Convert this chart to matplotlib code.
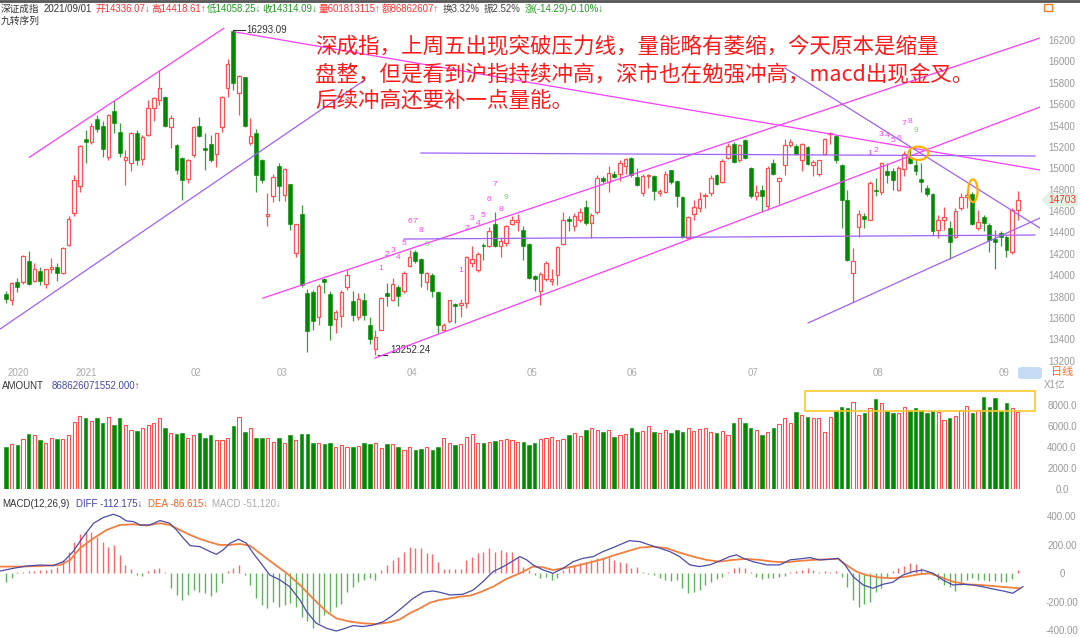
import numpy as np
import matplotlib
matplotlib.use("Agg")
import matplotlib.pyplot as plt
from matplotlib.patches import Ellipse, Rectangle, FancyBboxPatch

plt.rcParams['font.family'] = ['Liberation Sans', 'Noto Sans CJK SC', 'DejaVu Sans']

# ---- daily candles (深证成指), index 0 = mid Dec 2020 ----
opens = [13820, 13770, 13940, 13940, 14130, 13950, 14040, 13920, 14060, 14080,
         14020, 14280, 14580, 14830, 15270, 15250, 15460, 15400, 15110, 15540,
         15340, 15080, 15050, 15330, 15090, 15310, 15560, 15640, 15670, 15390,
         15220, 15100, 14900, 15120, 15400, 15190, 15230, 15130, 15390, 15750,
         16280, 15700, 15850, 15240, 15330, 15080, 14550, 14740, 15020, 14750,
         14850, 14210, 14570, 13830, 13840, 13610, 13960, 13820, 13590, 13620,
         13890, 13760, 13610, 13770, 13530, 13310, 13490, 13830, 13770, 13890,
         13850, 14090, 14220, 14150, 13940, 14000, 13840, 13490, 13570, 13730,
         13720, 13740, 14110, 14050, 14280, 14270, 14480, 14270, 14300, 14480,
         14500, 14420, 14290, 13990, 13850, 13960, 13950, 14000, 14290, 14530,
         14460, 14520, 14640, 14490, 14590, 14910, 14870, 14950, 14950, 15020,
         15100, 14920, 14770, 14930, 14930, 14770, 14780, 14980, 14880, 14730,
         14350, 14570, 14630, 14740, 14770, 14940, 14870, 15100, 15230, 15080,
         15260, 15000, 14740, 14800, 14650, 15050, 14880, 15030, 15220, 15210,
         15080, 15200, 15030, 14950, 15130, 15320, 15300, 15030, 14700, 14020,
         14450, 14550, 14520, 14800, 14780, 14970, 14970, 14800, 14990, 15110,
         15030, 14900, 14820, 14760, 14420, 14520, 14440, 14360, 14630, 14730,
         14760, 14440, 14540, 14470, 14336.07, 14390, 14360, 14220, 14610]
highs = [13850, 13940, 13970, 14190, 14230, 14110, 14080, 14060, 14160, 14110,
         14260, 14550, 14940, 15220, 15360, 15420, 15500, 15440, 15510, 15640,
         15420, 15170, 15340, 15360, 15310, 15640, 15670, 15920, 15680, 15500,
         15230, 15110, 15090, 15400, 15480, 15330, 15310, 15330, 15680, 16020,
         16293.09, 15870, 15850, 15470, 15370, 15090, 14770, 14950, 15050, 15000,
         14850, 14480, 14660, 13870, 13860, 13920, 13970, 13850, 13670, 13860,
         14050, 13850, 13830, 13830, 13610, 13490, 13800, 13930, 13970, 13910,
         14040, 14240, 14240, 14160, 14030, 14020, 13850, 13550, 13770, 13740,
         13780, 14180, 14270, 14220, 14300, 14450, 14590, 14350, 14470, 14550,
         14570, 14460, 14300, 14000, 14030, 14130, 14060, 14270, 14590, 14550,
         14580, 14630, 14700, 14580, 14940, 14930, 15020, 14970, 15080, 15100,
         15110, 15000, 14950, 14950, 14940, 14810, 14970, 14980, 14890, 14740,
         14550, 14700, 14780, 14770, 14940, 14950, 15090, 15240, 15250, 15230,
         15270, 15010, 14840, 14840, 15020, 15090, 14920, 15270, 15270, 15230,
         15240, 15210, 15080, 15080, 15280, 15340, 15310, 15040, 14800, 14250,
         14610, 14580, 14880, 14910, 15060, 15050, 15000, 15020, 15160, 15180,
         15090, 15050, 14840, 14770, 14560, 14640, 14510, 14630, 14770, 14800,
         14780, 14610, 14560, 14490, 14418.61, 14410, 14380, 14630, 14790]
lows = [13740, 13720, 13840, 13920, 13910, 13940, 13910, 13880, 14020, 13950,
        14010, 14270, 14550, 14780, 15050, 15230, 15340, 15110, 15080, 15330,
        15110, 14840, 14970, 15030, 15030, 15300, 15440, 15590, 15390, 15190,
        14950, 14700, 14860, 15110, 15290, 14980, 15060, 15010, 15340, 15670,
        15730, 15500, 15390, 15220, 14780, 14860, 14460, 14680, 14690, 14690,
        14420, 14170, 13890, 13280, 13490, 13530, 13830, 13390, 13460, 13520,
        13860, 13570, 13580, 13580, 13360, 13252.24, 13490, 13710, 13760, 13710,
        13830, 14080, 14110, 13890, 13860, 13800, 13460, 13490, 13550, 13550,
        13610, 13690, 14080, 14030, 14140, 14260, 14260, 14170, 14270, 14470,
        14410, 14140, 13960, 13850, 13720, 13950, 13910, 13910, 14280, 14410,
        14410, 14500, 14470, 14350, 14570, 14860, 14780, 14910, 14880, 14950,
        14920, 14830, 14740, 14820, 14700, 14740, 14770, 14850, 14640, 14350,
        14350, 14520, 14590, 14630, 14740, 14840, 14860, 15090, 15050, 15060,
        15090, 14720, 14700, 14590, 14610, 14940, 14670, 14940, 15200, 15120,
        14970, 15030, 14930, 14930, 15130, 15230, 15050, 14440, 14130, 13750,
        14360, 14440, 14520, 14740, 14750, 14860, 14800, 14790, 14930, 15040,
        14940, 14780, 14740, 14380, 14350, 14420, 14150, 14350, 14610, 14630,
        14470, 14420, 14410, 14220, 14058.25, 14270, 14170, 14200, 14520]
closes = [13780, 13930, 13890, 14180, 13920, 14060, 13950, 14060, 14080, 14020,
          14250, 14530, 14890, 15210, 15250, 15400, 15370, 15180, 15500, 15420,
          15140, 15110, 15330, 15080, 15290, 15560, 15660, 15750, 15400, 15470,
          14980, 14890, 15080, 15390, 15300, 15170, 15080, 15330, 15670, 15980,
          15800, 15860, 15400, 15300, 14940, 14890, 14570, 14920, 14830, 14990,
          14480, 14480, 13910, 13480, 13570, 13900, 13940, 13530, 13660, 13840,
          14000, 13630, 13780, 13630, 13400, 13420, 13790, 13810, 13920, 13810,
          14020, 14170, 14130, 14020, 14020, 13850, 13530, 13530, 13770, 13710,
          13740, 14170, 14150, 14200, 14270, 14410, 14270, 14320, 14460, 14520,
          14520, 14270, 13970, 13960, 14010, 14110, 13960, 14260, 14520, 14510,
          14550, 14590, 14490, 14560, 14910, 14880, 14960, 14920, 15050, 15090,
          14940, 14840, 14930, 14940, 14790, 14790, 14950, 14870, 14740, 14360,
          14540, 14640, 14710, 14750, 14910, 14850, 15070, 15210, 15060, 15220,
          15100, 14740, 14780, 14740, 15000, 14950, 14910, 15220, 15250, 15130,
          15230, 15040, 15060, 15080, 15270, 15330, 15080, 14700, 14140, 14130,
          14570, 14530, 14860, 14790, 15050, 14940, 14890, 15000, 15130, 15050,
          14970, 14870, 14760, 14410, 14520, 14540, 14310, 14600, 14730, 14750,
          14480, 14500, 14490, 14328, 14314.09, 14360, 14240, 14610, 14703]

# 成交额, 亿元
amount = [3986, 4271, 4207, 4777, 5251, 5156, 4681, 4365, 4840, 4777,
          4777, 5156, 6358, 6959, 6738, 6485, 6738, 6263, 6833, 6105,
          6801, 6105, 5630, 5535, 5789, 6105, 6263, 6801, 5789, 5314,
          5219, 5314, 4840, 5156, 5314, 4840, 5156, 4681, 4681, 4840,
          6042, 6896, 5472, 5789, 4903, 4903, 4840, 4523, 4903, 4365,
          5156, 4681, 5251, 5219, 4365, 4365, 4271, 4365, 4049, 4207,
          4049, 4049, 4144, 4365, 4271, 4365, 3891, 4271, 4271, 4049,
          3732, 4049, 3732, 3796, 4049, 3732, 4049, 4840, 4365, 4207,
          4271, 4998, 5219, 4365, 4365, 4523, 4587, 4681, 4745, 4681,
          4523, 4460, 4207, 4365, 4745, 4840, 4998, 4681, 4777, 5156,
          5314, 5093, 5630, 5789, 5630, 5472, 5630, 4998, 5156, 5219,
          5789, 5472, 5535, 6042, 5472, 5314, 5630, 5314, 5630, 5472,
          5789, 5535, 5725, 5852, 5472, 5314, 5535, 5156, 6263, 6738,
          6263, 5852, 5630, 5156, 5472, 5852, 6169, 6738, 6263, 7371,
          7054, 6896, 6738, 6738, 5409, 6896, 7434, 7846, 7751, 8320,
          7054, 7212, 7687, 8573, 8161, 7434, 7212, 7212, 7846, 7529,
          7687, 7529, 7212, 7434, 7371, 6579, 6738, 6991, 7529, 7941,
          7212, 7529, 8787, 7838, 8686, 7459, 8218, 7716, 7364]

macd_hist = [-58, -30, 12, 12, 16, 16, 23, 23, 30, 47,
             94, 152, 222, 274, 292, 288, 257, 222, 187, 199,
             129, 58, 30, -12, -16, 16, 30, 40, 12, -105,
             -152, -187, -152, -117, -129, -140, -157, -133, -70, 19,
             35, 58, -12, -82, -175, -222, -246, -199, -234, -222,
             -211, -234, -304, -335, -386, -351, -292, -274, -234, -218,
             -129, -94, -58, -47, -35, -47, 23, 58, 94, 117,
             152, 187, 180, 175, 140, 133, 82, 30, 30, 30,
             30, 94, 117, 140, 152, 175, 152, 164, 152, 152,
             117, 47, 23, -12, -30, -23, -47, -30, 23, 35,
             58, 70, 77, 94, 105, 105, 117, 94, 82, 70,
             35, 47, 12, -2, -12, -30, -47, -54, -47, -105,
             -140, -133, -117, -82, -63, -40, -23, 12, 35, 47,
             40, 12, -23, -40, -35, -30, -23, -16, 12, 16,
             23, 35, 23, 12, 16, 12, 16, -23, -94, -187,
             -234, -218, -199, -129, -101, -35, 16, 35, 54, 70,
             63, 35, 16, -12, -47, -82, -94, -124, -82, -47,
             -30, -47, -47, -54, -51, -63, -58, -40, 23]

diff_idx = [-1.0, 1.3, 3.6, 6.0, 8.3, 10.1, 11.8, 13.6, 15.4, 17.1,
            18.9, 20.0, 21.2, 22.4, 23.6, 25.3, 27.1, 28.8, 30.0, 31.2,
            32.4, 34.1, 35.9, 37.0, 38.2, 39.4, 40.9, 42.3, 43.5, 45.3,
            46.4, 48.2, 49.9, 51.7, 52.9, 54.6, 56.4, 58.1, 59.3, 61.1,
            62.8, 64.6, 66.4, 68.1, 69.9, 71.6, 73.4, 75.1, 76.3, 78.1,
            80.4, 82.2, 83.9, 85.7, 87.5, 89.2, 90.4, 91.6, 92.7, 94.5,
            96.2, 98.0, 99.8, 101.5, 103.3, 105.0, 106.8, 108.6, 109.7, 111.5,
            113.2, 115.0, 116.8, 118.5, 120.3, 122.0, 123.8, 125.6, 127.3, 128.5,
            129.7, 131.4, 133.8, 136.1, 137.9, 139.6, 141.4, 143.1, 144.9, 146.4,
            147.6, 149.0, 150.8, 152.5, 154.3, 156.0, 157.8, 159.6, 161.3, 163.1,
            164.8, 166.6, 168.3, 170.1, 171.8, 173.6, 175.4, 177.1, 178.9]
diff_val = [16, 35, 51, 58, 54, 82, 152, 257, 351, 391,
            414, 398, 367, 363, 339, 339, 370, 351, 304, 246,
            194, 187, 152, 133, 164, 211, 239, 211, 140, 47,
            -12, -47, -94, -187, -269, -351, -386, -405, -391, -367,
            -374, -363, -339, -293, -234, -176, -133, -124, -133, -152,
            -147, -117, -59, 12, 47, 87, 117, 94, 59, 23,
            0, 35, 82, 105, 117, 152, 180, 211, 229, 222,
            199, 176, 152, 117, 59, 47, 59, 87, 117, 129,
            105, 82, 59, 59, 94, 101, 110, 94, 98, 105,
            59, -23, -82, -105, -77, -63, -12, 12, 23, 0,
            -47, -82, -77, -82, -94, -110, -124, -140, -94]
dea_idx = [-1.0, 2.5, 6.0, 9.5, 11.3, 13.0, 15.4, 17.7, 20.0, 22.4,
           24.7, 27.1, 28.8, 30.6, 32.4, 34.1, 35.9, 37.6, 39.4, 41.1,
           42.9, 44.7, 47.0, 49.4, 51.7, 54.0, 56.4, 58.1, 60.5, 62.8,
           65.2, 67.5, 69.3, 71.0, 72.8, 74.6, 76.3, 78.1, 79.8, 81.6,
           83.4, 85.7, 88.0, 90.4, 92.7, 94.5, 96.2, 98.0, 99.8, 102.1,
           104.5, 106.8, 109.1, 111.5, 113.8, 116.2, 118.5, 120.9, 123.2, 125.6,
           127.9, 130.2, 132.6, 134.9, 137.3, 139.6, 142.0, 144.3, 146.4, 147.8,
           149.6, 151.3, 153.7, 156.0, 158.4, 160.7, 162.5, 164.2, 166.6, 168.9,
           171.3, 173.6, 175.9, 178.3]
dea_val = [47, 47, 51, 58, 94, 176, 246, 304, 339, 344,
           335, 351, 339, 304, 269, 241, 218, 199, 199, 206,
           194, 140, 70, 0, -82, -176, -269, -316, -339, -351,
           -356, -344, -323, -281, -246, -206, -187, -176, -164, -157,
           -133, -94, -40, 0, 47, 42, 23, 35, 47, 70,
           94, 124, 152, 180, 187, 176, 145, 117, 94, 82,
           94, 101, 94, 82, 77, 87, 94, 98, 101, 59,
           12, -12, -30, -35, -23, -7, 0, -23, -59, -77,
           -82, -89, -98, -105]

month_pos = [2.1, 14.2, 33.4, 48.5, 71.5, 92.5, 110.2, 131.4, 153.4, 175.5]
month_lab = ['2020', '2021', '02', '03', '04', '05', '06', '07', '08', '09']

price_ticks = list(range(13200, 16201, 200))
amount_ticks = [0, 2000, 4000, 6000, 8000]
macd_ticks = [-400, -200, 0, 200, 400]

# 九转序列 start bars
td_start = [66, 80, 152]

# hand drawn trend lines (bar index, price)
pink_lines = [(4.1, 15103, 38.3, 16309),
              (45.2, 13786, 181.9, 16219),
              (64.9, 13225, 181.9, 15573),
              (40.3, 16275, 181.9, 14984)]
purple_lines = [(-1.05, 13496, 63.1, 15826),
                (73.0, 15143, 181.0, 15115),
                (70.0, 14338, 181.0, 14376),
                (137.0, 15938, 181.9, 14441),
                (141.1, 13553, 181.9, 14535)]
circles = [(160.5, 15140, 3.5, 125), (170.1, 14790, 1.64, 212)]
amount_box = (140.5, 7431, 181.1, 9357)

header = [('深证成指', '#333333', 4), ('2021/09/01', '#333333', 4),
          ('开14336.07↓', '#ff3030', 1), ('高14418.61↑', '#ff3030', 1),
          ('低14058.25↓', '#1f9a1f', 1), ('收14314.09↓', '#1f9a1f', 1),
          ('量601813115↑', '#ff3030', 1), ('额86862607↑', '#ff3030', 4),
          ('换3.32%', '#444444', 4), ('振2.52%', '#444444', 4),
          ('涨(-14.29)-0.10%↓', '#1f9a1f', 0)]

note = ["深成指，上周五出现突破压力线，量能略有萎缩，今天原本是缩量",
        "盘整，但是看到沪指持续冲高，深市也在勉强冲高，macd出现金叉。",
        "后续冲高还要补一点量能。"]

W, H = 1080, 638
RED = '#ff5050'
GREEN = '#008a00'
WICK_G = '#3c9c3c'
PINK = '#ff3cff'
PURPLE = '#a060f8'
GRAY = '#999999'

fig = plt.figure(figsize=(W / 100, H / 100), dpi=100)
fig.patch.set_facecolor('white')


def panel(top, bottom):
    return fig.add_axes([0, 1 - bottom / H, 1040 / W, (bottom - top) / H])


def ftext(x, y, s, **kw):
    kw.setdefault('va', 'center')
    kw.setdefault('fontsize', 7)
    return fig.text(x / W, 1 - y / H, s, **kw)


ax = panel(20, 362)
axv = panel(385, 489.3)
axm = panel(512, 636)

o = np.array(opens, dtype=float)
h = np.array(highs, dtype=float)
l = np.array(lows, dtype=float)
c = np.array(closes, dtype=float)
x = np.arange(len(c))
up = c >= o
lo = np.minimum(o, c)
hi = np.maximum(o, c)
bh = np.maximum(hi - lo, 8)

# candles
ax.vlines(x[~up], l[~up], h[~up], color=WICK_G, lw=0.9, zorder=2)
ax.bar(x[~up], bh[~up], bottom=lo[~up], width=0.68, color=GREEN,
       edgecolor=GREEN, lw=0.4, zorder=3)
ax.vlines(x[up], hi[up], h[up], color=RED, lw=0.9, zorder=2)
ax.vlines(x[up], l[up], lo[up], color=RED, lw=0.9, zorder=2)
ax.bar(x[up], bh[up], bottom=lo[up], width=0.62, facecolor='white',
       edgecolor=RED, lw=0.9, zorder=3)

for x0, y0, x1, y1 in pink_lines:
    ax.plot([x0, x1], [y0, y1], color=PINK, lw=0.9, zorder=4)
for x0, y0, x1, y1 in purple_lines:
    ax.plot([x0, x1], [y0, y1], color=PURPLE, lw=0.9, zorder=4)
for cx, cy, ew, eh in circles:
    ax.add_patch(Ellipse((cx, cy), ew, eh, fill=False, ec='#ffb000', lw=1.6, zorder=5))

# 九转 numbers
for s in td_start:
    for k in range(9):
        i = s + k
        ax.annotate(str(k + 1), (i, h[i]), xytext=(0, 20), textcoords='offset points',
                    ha='center', va='center', fontsize=6,
                    color='#66dd66' if k == 8 else PINK)

# max / min labels
imax = int(np.argmax(h))
imin = int(np.argmin(l))
ax.plot([imax, imax + 2.1], [h[imax], h[imax]], color='#333333', lw=0.8)
ax.text(imax + 2.2, h[imax], f'{h[imax]:.2f}', fontsize=7, color='#333333', va='center')
ax.plot([imin + 0.5, imin + 2.1], [l[imin], l[imin]], color='#333333', lw=0.8)
ax.text(imin + 2.6, l[imin] + 45, f'{l[imin]:.2f}', fontsize=7, color='#333333', va='center')

ax.set_xlim(-1.055, 181.9)
ax.set_ylim(13188, 16387)

# amount bars
v = np.array(amount, dtype=float)
axv.bar(x[~up], v[~up], width=0.62, color=GREEN, edgecolor=GREEN, lw=0.4)
axv.bar(x[up], v[up], width=0.56, facecolor='white', edgecolor=RED, lw=0.8)
bx0, by0, bx1, by1 = amount_box
axv.add_patch(Rectangle((bx0, by0), bx1 - bx0, by1 - by0, fill=False,
                        ec='#ffc830', lw=1.2))
axv.set_xlim(-1.055, 181.9)
axv.set_ylim(0, 9898)

# MACD
mh = np.array(macd_hist, dtype=float)
pos = mh >= 0
axm.vlines(x[pos], 0, mh[pos], color='#ff6666', lw=1.0)
axm.vlines(x[~pos], 0, mh[~pos], color='#5cb35c', lw=1.0)
axm.plot(dea_idx, dea_val, color='#f08040', lw=1.3)
axm.plot(diff_idx, diff_val, color='#4b4bab', lw=0.9)
axm.set_xlim(-1.055, 181.9)
axm.set_ylim(-440, 430)


def right_ticks(a, ticks, labels):
    a.yaxis.tick_right()
    a.set_yticks(ticks)
    a.set_yticklabels(labels)
    a.tick_params(axis='y', length=0, pad=15.8, labelsize=7, labelcolor=GRAY)
    for t in a.get_yticklabels():
        t.set_horizontalalignment('center')


right_ticks(ax, price_ticks, [str(t) for t in price_ticks])
right_ticks(axv, amount_ticks, [f'{t:.1f}' for t in amount_ticks])
right_ticks(axm, macd_ticks, ['0' if t == 0 else f'{t:.2f}' for t in macd_ticks])

ax.set_xticks(month_pos)
ax.set_xticklabels(month_lab)
ax.tick_params(axis='x', length=0, pad=4, labelsize=7, labelcolor='#aaaaaa')
axv.set_xticks([])
axm.set_xticks([])
for a in (ax, axv, axm):
    for sp in a.spines.values():
        sp.set_visible(False)

# last price tag
ax.annotate(f'{c[-1]:.0f}', xy=(1.0212, c[-1]), xycoords=('axes fraction', 'data'),
            ha='center', va='center', fontsize=7.2, color='#ff3030',
            bbox=dict(boxstyle='larrow,pad=0.15', fc='#e3f3e3', ec='none'),
            annotation_clip=False)

# header line, pieces laid out one after another
fig.add_artist(plt.Line2D([0, 1], [1 - 1 / H, 1 - 1 / H], color='#555555', lw=2))
fig.add_artist(Rectangle((1044 / W, 1 - 11 / H), 8 / W, 7 / H, fill=False,
                         ec='#ff7f27', lw=1))
renderer = fig.canvas.get_renderer()
xpos = 1
for s, col, gap in header:
    t = ftext(xpos, 9, s, color=col, fontsize=6.9)
    xpos += t.get_window_extent(renderer).width + gap
ftext(1, 21, '九转序列', color='#333333')

# annotation text
for k, line in enumerate(note):
    ftext(315, 47 + 27 * k, line, fontsize=15.5, color='#ff1a1a',
          family=['Noto Sans CJK SC', 'DejaVu Sans'])

# lower panels titles
ftext(2, 386, 'AMOUNT', color='#333333')
ftext(52, 386, '868626071552.000↑', color='#4848a8')
ftext(1055, 385, 'X1亿', color=GRAY, ha='center')
ftext(2, 504, 'MACD(12,26,9)', color='#333333')
ftext(76, 504, 'DIFF -112.175↓', color='#4040a8')
ftext(148, 504, 'DEA -86.615↓', color='#ff5a1e')
ftext(212, 504, 'MACD -51.120↓', color='#aaaaaa')

# 日线 switch
fig.add_artist(FancyBboxPatch((1018 / W, 1 - 379 / H), 24 / W, 12 / H,
                              boxstyle='round,pad=0,rounding_size=0.004',
                              fc='#c6dcf4', ec='none'))
ftext(1062, 372, '日线', color='#ff6a2a', fontsize=8, ha='center')

fig.savefig('out.png', dpi=100)
